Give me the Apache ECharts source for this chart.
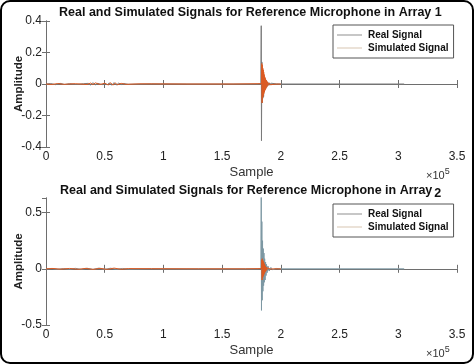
<!DOCTYPE html>
<html>
<head>
<meta charset="utf-8">
<script src="https://cdn.jsdelivr.net/npm/echarts@6/dist/echarts.min.js"></script>
<style>html,body{margin:0;padding:0;background:#fff}#c{width:474px;height:364px}</style>
</head>
<body>
<div id="c"></div>
<script>
// ---- Data ----
var titles = ['Real and Simulated Signals for Reference Microphone in Array 1',
              'Real and Simulated Signals for Reference Microphone in Array'];
var seriesNames = ['Real Signal', 'Simulated Signal'];
var xTickLabels = ['0', '0.5', '1', '1.5', '2', '2.5', '3', '3.5'];

// Array 1 – real signal
var real1X = [0, 4000, 8000, 12000, 16000, 20000, 26000, 32000, 36000, 38000, 40000, 42000, 44000, 48000, 50000, 52000, 54000, 56000, 58000, 60000, 62000, 64000, 66000, 70000, 90000, 120000, 150000, 180000, 183000,
  183300, 183500, 183800, 184100, 184400, 184700, 185000, 185300, 185600, 185900, 186200, 186600, 187000, 187400, 187800, 188300, 189000, 190000, 191500, 193000, 196000, 200000, 250000, 305000];
var real1Y = [0, 0.003, -0.004, 0.004, -0.003, 0.002, -0.003, 0.002, 0.004, -0.006, 0.008, -0.005, 0.004, -0.004, 0.006, -0.005, 0.007, -0.008, 0.009, -0.006, 0.006, -0.004, 0.003, -0.002, 0.001, 0, 0, 0, 0.002,
  0.37, -0.36, 0.14, -0.12, 0.10, -0.09, 0.07, -0.08, 0.05, -0.05, 0.04, -0.035, 0.03, -0.025, 0.02, -0.015, 0.01, -0.008, 0.005, -0.003, 0.001, 0, 0, 0];
// Array 1 – simulated signal
var sim1X = [0, 5000, 10000, 15000, 25000, 35000, 38000, 40000, 42000, 46000, 50000, 53000, 55000, 57000, 59000, 61000, 64000, 68000, 80000, 120000, 160000, 183500,
  183800, 184000, 184200, 184400, 184600, 184800, 185000, 185200, 185400, 185600, 185800, 186000, 186300, 186600, 186900, 187200, 187600, 188000, 188500, 189000, 190000, 191000, 192500, 195000, 200000];
var sim1Y = [0, -0.003, 0.003, -0.002, 0.002, -0.003, 0.006, -0.004, 0.007, -0.003, 0.005, -0.006, 0.008, -0.007, 0.006, -0.005, 0.004, -0.002, 0.001, 0, 0, 0.002,
  0.13, -0.12, 0.12, -0.09, 0.1, -0.08, 0.09, -0.07, 0.075, -0.06, 0.06, -0.05, 0.045, -0.04, 0.035, -0.03, 0.025, -0.02, 0.015, -0.01, 0.008, -0.005, 0.003, -0.001, 0];

// Array 2 – real signal
var real2X = [0, 5000, 10000, 15000, 20000, 25000, 30000, 35000, 40000, 45000, 50000, 55000, 60000, 65000, 70000, 90000, 120000, 150000, 180000, 183000,
  183300, 183500, 183800, 184100, 184400, 184700, 185000, 185300, 185600, 185900, 186200, 186600, 187000, 187400, 187800, 188300, 189000, 190000, 191500, 193000, 196000, 200000, 250000, 305000];
var real2Y = [0, 0.003, -0.003, 0.002, -0.003, 0.004, -0.004, 0.005, -0.005, 0.006, -0.004, 0.005, -0.004, 0.003, -0.002, 0.001, 0, 0, 0, 0.002,
  0.66, -0.37, 0.42, -0.28, 0.25, -0.2, 0.18, -0.15, 0.14, -0.12, 0.09, -0.1, 0.06, -0.06, 0.04, -0.035, 0.025, -0.02, 0.012, -0.008, 0.003, 0, 0, 0];
// Array 2 – simulated signal
var sim2X = [0, 6000, 12000, 20000, 28000, 34000, 40000, 46000, 52000, 58000, 64000, 70000, 90000, 130000, 170000, 183500,
  183800, 184000, 184200, 184400, 184600, 184800, 185000, 185200, 185400, 185600, 185800, 186000, 186300, 186600, 186900, 187200, 187600, 188000, 188500, 189000, 190000, 191000, 192500, 195000, 200000];
var sim2Y = [0, 0.003, -0.003, 0.003, -0.004, 0.004, -0.005, 0.004, -0.005, 0.006, -0.004, 0.002, 0.001, 0, 0, 0.002,
  0.08, -0.1, 0.09, -0.08, 0.075, -0.07, 0.065, -0.06, 0.055, -0.05, 0.045, -0.04, 0.035, -0.03, 0.025, -0.02, 0.015, -0.012, 0.009, -0.006, 0.004, -0.002, 0.001, 0, 0];

function zip(xs, ys) { return xs.map(function (x, i) { return [x, ys[i]]; }); }

var FONT = 'Liberation Sans, Arial, sans-serif';
var axisCol = '#6e6e6e';
var realCol1 = '#7a7a7a', realCol2 = '#7d98a3', simCol = '#dc5a22';

var grids = [
  { left: 46, right: 17, top: 21, height: 126, outerBoundsMode: 'none', containLabel: false },
  { left: 46, right: 17, top: 198, height: 127, outerBoundsMode: 'none', containLabel: false }
];
var yCfg = [
  { min: -0.4, max: 0.4, interval: 0.2 },
  { min: -0.5, max: 0.63, interval: 0.5 }
];

var xAxes = [], yAxes = [];
[0, 1].forEach(function (g) {
  xAxes.push({
    type: 'value', gridIndex: g, min: 0, max: 350000, interval: 50000, position: 'bottom',
    name: 'Sample', nameLocation: 'middle', nameGap: 19, nameMoveOverlap: false,
    nameTextStyle: { fontFamily: FONT, fontSize: 13, color: '#333' },
    axisLine: { lineStyle: { color: axisCol, width: 1 } },
    axisTick: { inside: true, length: 4, lineStyle: { color: axisCol } },
    axisLabel: { fontFamily: FONT, fontSize: 12, color: '#222', margin: 4,
      formatter: function (v) { return xTickLabels[Math.round(v / 50000)]; } },
    splitLine: { show: false }
  });
  xAxes.push({
    type: 'value', gridIndex: g, min: 0, max: 350000, interval: 50000, position: 'top',
    axisLine: { lineStyle: { color: axisCol, width: 1 } },
    axisTick: { inside: true, length: 4, lineStyle: { color: axisCol } },
    axisLabel: { show: false }, splitLine: { show: false }
  });
  yAxes.push({
    type: 'value', gridIndex: g, min: yCfg[g].min, max: yCfg[g].max, interval: yCfg[g].interval, position: 'left',
    name: 'Amplitude', nameLocation: 'middle', nameGap: 21, nameMoveOverlap: false,
    nameTextStyle: { fontFamily: FONT, fontSize: 11.5, fontWeight: 'bold', color: '#222' },
    axisLine: { show: true, lineStyle: { color: axisCol, width: 1 } },
    axisTick: { show: true, inside: true, length: 4, lineStyle: { color: axisCol } },
    axisLabel: { fontFamily: FONT, fontSize: 12, color: '#222', margin: 4, showMaxLabel: g === 0,
      formatter: function (v) { return String(Math.round(v * 10) / 10); } },
    splitLine: { show: false }
  });
  yAxes.push({
    type: 'value', gridIndex: g, min: yCfg[g].min, max: yCfg[g].max, interval: yCfg[g].interval, position: 'right',
    axisLine: { show: true, lineStyle: { color: axisCol, width: 1 } },
    axisTick: { show: true, inside: true, length: 4, lineStyle: { color: axisCol } },
    axisLabel: { show: false }, splitLine: { show: false }
  });
});

function lineSeries(name, data, g, color, z) {
  return {
    name: name, type: 'line', data: data, xAxisIndex: g * 2, yAxisIndex: g * 2,
    showSymbol: false, symbol: 'none', animation: false, z: z,
    lineStyle: { color: color, width: 1 }, itemStyle: { color: color }
  };
}

var series = [
  lineSeries(seriesNames[0], zip(real1X, real1Y), 0, realCol1, 2),
  lineSeries(seriesNames[1], zip(sim1X, sim1Y), 0, simCol, 3),
  lineSeries(seriesNames[0], zip(real2X, real2Y), 1, realCol2, 2),
  lineSeries(seriesNames[1], zip(sim2X, sim2Y), 1, simCol, 3)
];

function legend(top) {
  return {
    left: 333, top: top, orient: 'vertical', itemGap: 3, itemWidth: 25, itemHeight: 8,
    padding: [5, 5, 5, 4], borderColor: '#555', borderWidth: 1, backgroundColor: '#fff',
    selectedMode: false, icon: 'path://M0,4L26,4L26,5L0,5Z',
    textStyle: { fontFamily: FONT, fontSize: 10, fontWeight: 'bold', color: '#111', padding: [0, 0, 0, 1] },
    data: [
      { name: seriesNames[0], itemStyle: { color: '#8a8a8a' } },
      { name: seriesNames[1], itemStyle: { color: '#d6c2ad' } }
    ]
  };
}

var chart = echarts.init(document.getElementById('c'), null, { renderer: 'canvas' });
chart.setOption({
  animation: false,
  backgroundColor: '#fff',
  title: [
    { text: titles[0], left: 59, top: 6, padding: 0, textStyle: { fontFamily: FONT, fontSize: 12.5, fontWeight: 'bold', color: '#111' } },
    { text: '{a|' + titles[1] + '}{b|2}', left: 60, top: 182, padding: 0,
      textStyle: { rich: {
        a: { fontFamily: FONT, fontSize: 12.5, fontWeight: 'bold', color: '#111' },
        b: { fontFamily: FONT, fontSize: 12.5, fontWeight: 'bold', color: '#111', padding: [5, 0, 0, 2] } } } }
  ],
  legend: [legend(25), legend(204)],
  grid: grids,
  xAxis: xAxes,
  yAxis: yAxes,
  series: series,
  graphic: [
    { type: 'rect', shape: { x: 1, y: 1, width: 472, height: 362, r: 9 }, style: { fill: 'none', stroke: '#000', lineWidth: 2 }, z: 100 },
    { type: 'text', left: 426, top: 167, style: { text: '{a|×10}{b|5}', rich: {
      a: { fontFamily: FONT, fontSize: 11, fill: '#333' }, b: { fontFamily: FONT, fontSize: 9, fill: '#333', padding: [0, 0, 9, 0] } } } },
    { type: 'text', left: 426, top: 345, style: { text: '{a|×10}{b|5}', rich: {
      a: { fontFamily: FONT, fontSize: 11, fill: '#333' }, b: { fontFamily: FONT, fontSize: 9, fill: '#333', padding: [0, 0, 9, 0] } } } }
  ]
});
</script>
</body>
</html>
